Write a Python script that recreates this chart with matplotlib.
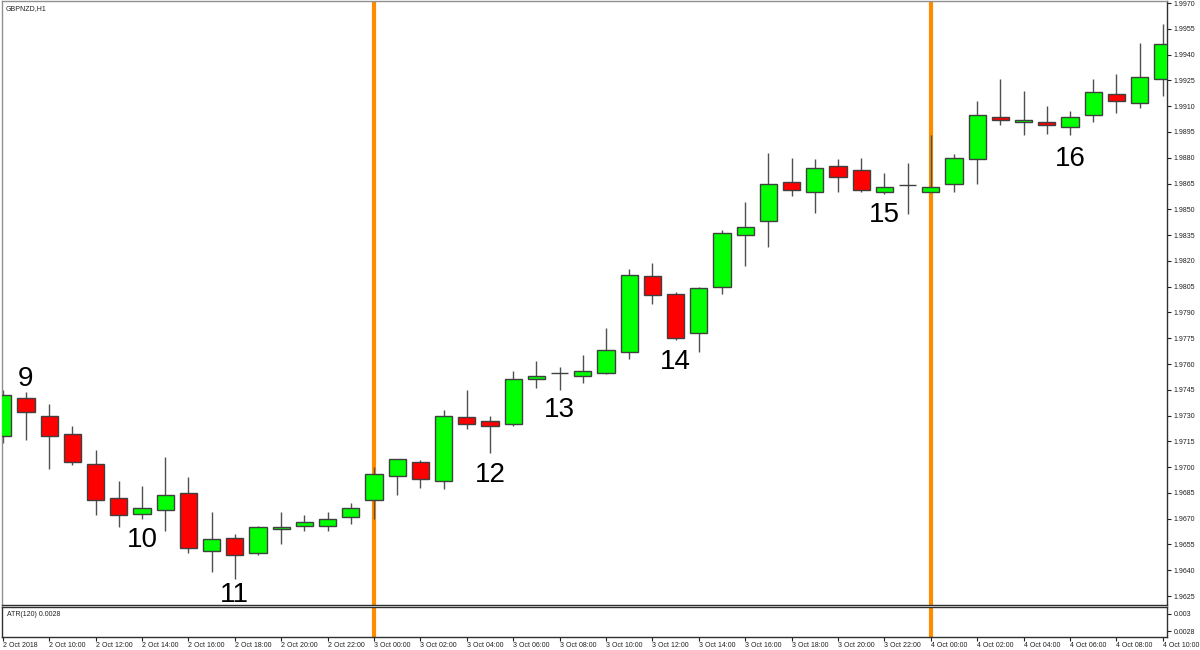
import matplotlib
matplotlib.use("Agg")
import matplotlib.pyplot as plt
import numpy as np
import pandas as pd

# GBPNZD H1 bars, 2 Oct 2018 08:00 .. 4 Oct 2018 10:00
opens = [1.9718, 1.9740, 1.9730, 1.9719, 1.9702, 1.9682, 1.9673, 1.9675, 1.9685, 1.9651,
         1.9659, 1.9650, 1.9664, 1.9666, 1.9666, 1.9671, 1.9681, 1.9695, 1.9703, 1.9692,
         1.9729, 1.9727, 1.9725, 1.9751, 1.9755, 1.9753, 1.9755, 1.9767, 1.9811, 1.9801,
         1.9778, 1.9805, 1.9835, 1.9843, 1.9866, 1.9860, 1.9875, 1.9873, 1.9860, 1.9864,
         1.9860, 1.9865, 1.9879, 1.9904, 1.9901, 1.9901, 1.9898, 1.9905, 1.9917, 1.9912,
         1.9926]
highs = [1.9745, 1.9744, 1.9737, 1.9724, 1.9710, 1.9692, 1.9689, 1.9706, 1.9694, 1.9674,
         1.9661, 1.9666, 1.9674, 1.9672, 1.9674, 1.9679, 1.9700, 1.9705, 1.9704, 1.9733,
         1.9745, 1.9730, 1.9756, 1.9762, 1.9758, 1.9765, 1.9781, 1.9815, 1.9819, 1.9802,
         1.9805, 1.9838, 1.9854, 1.9883, 1.9880, 1.9879, 1.9879, 1.9880, 1.9871, 1.9877,
         1.9893, 1.9882, 1.9913, 1.9926, 1.9919, 1.9910, 1.9907, 1.9926, 1.9929, 1.9947,
         1.9958]
lows = [1.9714, 1.9716, 1.9699, 1.9701, 1.9672, 1.9665, 1.9670, 1.9663, 1.9650, 1.9639,
        1.9635, 1.9649, 1.9655, 1.9663, 1.9663, 1.9667, 1.9670, 1.9684, 1.9688, 1.9687,
        1.9722, 1.9708, 1.9724, 1.9746, 1.9745, 1.9749, 1.9754, 1.9763, 1.9795, 1.9774,
        1.9767, 1.9801, 1.9817, 1.9828, 1.9858, 1.9848, 1.9860, 1.9860, 1.9859, 1.9847,
        1.9860, 1.9860, 1.9865, 1.9899, 1.9893, 1.9894, 1.9893, 1.9901, 1.9906, 1.9909,
        1.9916]
closes = [1.9742, 1.9732, 1.9718, 1.9703, 1.9681, 1.9672, 1.9676, 1.9684, 1.9653, 1.9658,
          1.9649, 1.9665, 1.9665, 1.9668, 1.9670, 1.9676, 1.9696, 1.9705, 1.9693, 1.9730,
          1.9725, 1.9724, 1.9751, 1.9753, 1.9755, 1.9756, 1.9768, 1.9812, 1.9800, 1.9775,
          1.9804, 1.9836, 1.9840, 1.9865, 1.9861, 1.9874, 1.9869, 1.9861, 1.9863, 1.9864,
          1.9863, 1.9880, 1.9905, 1.9902, 1.9902, 1.9899, 1.9904, 1.9918, 1.9913, 1.9927,
          1.9946]

# wave count labels: text, bar index, price
wave_labels = ['9', '10', '11', '12', '13', '14', '15', '16']
wave_bars = [1, 6, 10, 21, 24, 29, 38, 46]
wave_prices = [1.97512, 1.96576, 1.96256, 1.96954, 1.97332, 1.97611, 1.98467, 1.98792]

# day separators (bar index of 3 Oct 00:00 and 4 Oct 00:00)
day_lines = [16, 40]

times = pd.date_range('2018-10-02 08:00', periods=len(opens), freq='h')
tick_bars = list(range(0, len(opens), 2))
tick_labels = [times[i].strftime('%-d %b %H:%M') for i in tick_bars]
tick_labels[0] = '2 Oct 2018'

price_ticks = [1.9625 + 0.0015 * k for k in range(24)]

SMALL = dict(fontsize=5, family='Liberation Sans')

W, H = 1200, 650
fig = plt.figure(figsize=(12, 6.5), dpi=100)
ax = fig.add_axes([2 / W, (H - 605) / H, 1165 / W, 604 / H])
ax2 = fig.add_axes([2 / W, (H - 637) / H, 1165 / W, 30 / H])

x = np.arange(len(opens))
o = np.array(opens); c = np.array(closes)
body_col = np.where(c > o, '#00ff00', np.where(c < o, '#ff0000', '#404040'))

# wicks
ax.vlines(x, lows, highs, color='#505050', lw=1, zorder=2)
# bodies
ax.bar(x, np.abs(c - o), bottom=np.minimum(o, c), width=0.74,
       color=body_col, edgecolor='#404040', linewidth=1, zorder=3)

for d in day_lines:
    ax.axvline(d, color='#ff8c00', lw=3, zorder=1)
    ax2.axvline(d, color='#ff8c00', lw=3, zorder=1)

for t, b, p in zip(wave_labels, wave_bars, wave_prices):
    ax.text(b, p, t, fontsize=20, family='Liberation Sans', color='black',
            ha='center', va='center', zorder=5)

ax.set_xlim(-0.034, 50.18)
ax.set_ylim(1.96198, 1.99712)
ax.yaxis.tick_right()
ax.set_yticks(price_ticks)
ax.set_yticklabels(['%.4f' % v for v in price_ticks], **SMALL)
ax.tick_params(axis='y', direction='out', length=3, width=0.8, pad=2,
               colors='#202020')
ax.set_xticks([])
for s in ['left', 'top']:
    ax.spines[s].set_color('#909090')
for s in ['right', 'bottom']:
    ax.spines[s].set_color('#303030')
for s in ax.spines.values():
    s.set_linewidth(1)

ax.text(0.003, 0.994, 'GBPNZD,H1', transform=ax.transAxes,
        ha='left', va='top', color='#202020', **SMALL)

# ATR sub window
ax2.set_xlim(-0.034, 50.18)
ax2.set_ylim(0.00273, 0.003082)
ax2.yaxis.tick_right()
ax2.set_yticks([0.0028, 0.003])
ax2.set_yticklabels(['0.0028', '0.003'], **SMALL)
ax2.tick_params(axis='y', direction='out', length=3, width=0.8, pad=2,
                colors='#202020')
ax2.set_xticks(tick_bars)
ax2.set_xticklabels(tick_labels, **SMALL)
ax2.tick_params(axis='x', direction='out', length=3, width=0.8, pad=0.5,
                colors='#202020')
for lab in ax2.get_xticklabels():
    lab.set_horizontalalignment('left')
for s in ax2.spines.values():
    s.set_color('#303030')
    s.set_linewidth(1)
ax2.text(0.004, 0.86, 'ATR(120) 0.0028', transform=ax2.transAxes,
         ha='left', va='top', color='#202020', **SMALL)

fig.savefig('out.png', dpi=100)
